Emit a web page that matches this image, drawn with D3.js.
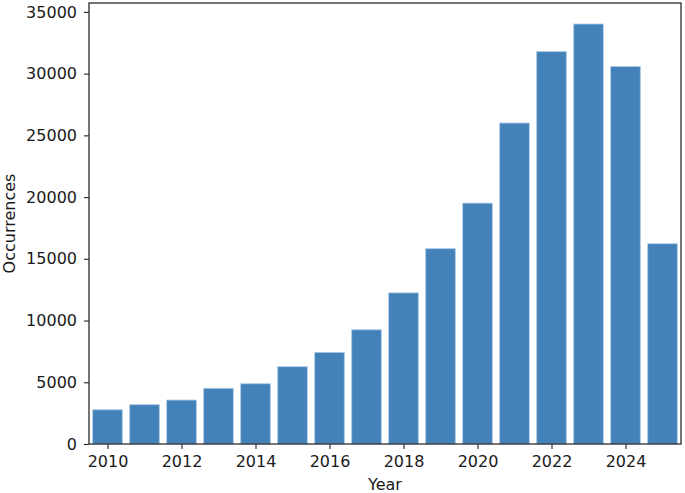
<!DOCTYPE html>
<html>
<head>
<meta charset="utf-8">
<script src="https://cdn.jsdelivr.net/npm/d3@7"></script>
<style>
  body { margin: 0; background: #fff; }
  svg text { font-family: "DejaVu Sans", sans-serif; fill: #1a1a1a; }
</style>
</head>
<body>
<div id="chart"></div>
<script>
// Data
const years = [2010, 2011, 2012, 2013, 2014, 2015, 2016, 2017,
               2018, 2019, 2020, 2021, 2022, 2023, 2024, 2025];
const occurrences = [2770, 3180, 3560, 4510, 4880, 6260, 7420, 9250,
                     12240, 15820, 19510, 26000, 31780, 34020, 30570, 16220];
const yTicks = [0, 5000, 10000, 15000, 20000, 25000, 30000, 35000];
const xTicks = [2010, 2012, 2014, 2016, 2018, 2020, 2022, 2024];

const width = 685, height = 493;
const margin = { top: 3, right: 4, bottom: 49, left: 89 };
const innerW = width - margin.left - margin.right;
const innerH = height - margin.top - margin.bottom;
const fontSize = '16px';

const svg = d3.select('#chart')
    .append('svg')
    .attr('width', width)
    .attr('height', height);

const g = svg.append('g')
    .attr('transform', `translate(${margin.left},${margin.top})`);

// Scales (matplotlib-like 5% headroom on top)
const x = d3.scaleLinear()
    .domain([years[0] - 0.5, years[years.length - 1] + 0.5])
    .range([0, innerW]);

const y = d3.scaleLinear()
    .domain([0, d3.max(occurrences) * 1.05])
    .range([innerH, 0]);

const barW = x(years[0] + 0.4) - x(years[0] - 0.4);

// Bars
g.selectAll('rect.bar')
    .data(years)
    .enter()
    .append('rect')
    .attr('class', 'bar')
    .attr('x', (d) => x(d) - barW / 2)
    .attr('width', barW)
    .attr('y', (d, i) => y(occurrences[i]))
    .attr('height', (d, i) => innerH - y(occurrences[i]))
    .attr('fill', '#4382b9')
    .attr('stroke', '#a9c8e6')
    .attr('stroke-width', 0.8);

// Axes
const xAxis = d3.axisBottom(x)
    .tickValues(xTicks)
    .tickFormat(d3.format('d'))
    .tickSizeOuter(0)
    .tickSize(5)
    .tickPadding(7);

const yAxis = d3.axisLeft(y)
    .tickValues(yTicks)
    .tickFormat(d3.format('d'))
    .tickSizeOuter(0)
    .tickSize(5)
    .tickPadding(7);

const gx = g.append('g')
    .attr('transform', `translate(0,${innerH})`)
    .call(xAxis);

const gy = g.append('g').call(yAxis);

[gx, gy].forEach(a => {
    a.select('.domain').remove();
    a.selectAll('.tick line').attr('stroke', '#222').attr('stroke-width', 1.1);
    a.selectAll('.tick text')
        .style('font-size', fontSize)
        .style('font-family', '"DejaVu Sans", sans-serif')
        .attr('fill', '#1a1a1a');
});

// Frame (all four spines)
g.append('rect')
    .attr('x', 0)
    .attr('y', 0)
    .attr('width', innerW)
    .attr('height', innerH)
    .attr('fill', 'none')
    .attr('stroke', '#2b2b2b')
    .attr('stroke-width', 1.3);

// Axis labels
svg.append('text')
    .attr('x', margin.left + innerW / 2)
    .attr('y', 490)
    .attr('text-anchor', 'middle')
    .style('font-size', fontSize)
    .text('Year');

svg.append('text')
    .attr('transform', `translate(15,${margin.top + innerH / 2}) rotate(-90)`)
    .attr('text-anchor', 'middle')
    .style('font-size', fontSize)
    .text('Occurrences');
</script>
</body>
</html>
